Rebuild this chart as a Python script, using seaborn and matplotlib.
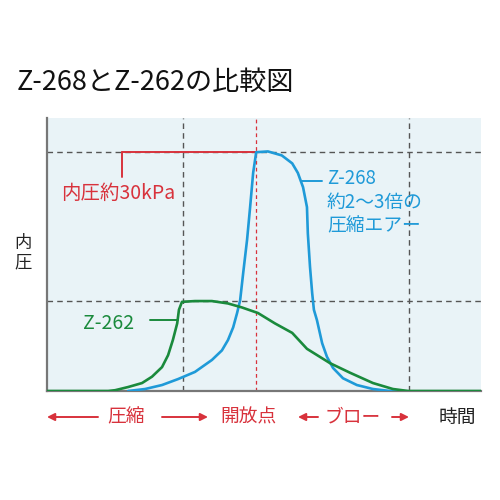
import seaborn as sns
import numpy as np
import pandas as pd
import matplotlib.pyplot as plt
from matplotlib.patches import FancyArrowPatch

# time in arbitrary units (0-100), internal pressure in kPa
t_268 = [18.7, 22.6, 26.5, 30.2, 34.1, 38.0, 40.3, 41.7, 42.9, 43.8, 44.5, 45.2,
         46.1, 46.8, 47.5, 48.2, 50.9, 54.1, 56.5, 57.8, 59.0, 59.9, 60.1, 60.6,
         61.1, 61.5, 62.2, 63.4, 64.5, 65.9, 68.2, 71.4, 75.1, 79.0, 82.0]
p_268 = [0.0, 0.25, 0.75, 1.5, 2.4, 3.9, 5.1, 6.4, 8.0, 9.8, 11.4, 14.8,
         19.0, 23.1, 27.4, 30.0, 30.1, 29.6, 28.6, 27.4, 25.6, 23.1, 19.8, 15.6,
         12.3, 10.2, 8.9, 6.0, 4.3, 2.9, 1.6, 0.75, 0.25, 0.0, 0.0]

t_262 = [0.0, 14.1, 15.7, 18.7, 21.9, 24.2, 26.5, 27.9, 29.0, 30.0, 30.4, 31.1,
         34.1, 38.0, 41.7, 44.9, 48.6, 52.5, 56.5, 59.9, 65.2, 69.8, 75.1, 79.7,
         83.2, 100.0]
p_262 = [0.0, 0.0, 0.1, 0.5, 1.0, 1.8, 3.0, 4.5, 6.4, 8.5, 10.2, 11.2,
         11.3, 11.3, 11.0, 10.5, 9.8, 8.5, 7.3, 5.3, 3.5, 2.3, 1.0, 0.25,
         0.0, 0.0]

phase_lines = [31.3, 83.4]
open_point = 48.2
level_268 = 30.0
level_262 = 11.3

BLUE = '#1f9ad8'
GREEN = '#1a8a3c'
RED = '#d8323c'
GRAY = '#555555'

sns.set_theme(style='white')
plt.rcParams['font.family'] = ['Noto Sans CJK JP', 'DejaVu Sans']

fig = plt.figure(figsize=(5, 5), dpi=100)
ax = fig.add_axes([47 / 500, 109 / 500, 434 / 500, 273 / 500])
ax.set_facecolor('#e9f3f7')

df268 = pd.DataFrame({'t': t_268, 'p': p_268})
df262 = pd.DataFrame({'t': t_262, 'p': p_262})

# guide lines
for x in phase_lines:
    ax.axvline(x, color=GRAY, lw=1, ls=(0, (4, 3)), zorder=1)
ax.axvline(open_point, color=RED, lw=0.9, ls=(0, (3, 2.5)), zorder=1)
for y in [level_268, level_262]:
    ax.axhline(y, color=GRAY, lw=1, ls=(0, (4, 3)), zorder=1)

sns.lineplot(data=df268, x='t', y='p', color=BLUE, lw=1.9, ax=ax, zorder=3)
sns.lineplot(data=df262, x='t', y='p', color=GREEN, lw=1.9, ax=ax, zorder=4)

ax.set_xlim(0, 100)
ax.set_ylim(0, 34.3)
ax.set_xticks([])
ax.set_yticks([])
ax.set_xlabel('')
ax.set_ylabel('')
for s in ['top', 'right']:
    ax.spines[s].set_visible(False)
for s in ['left', 'bottom']:
    ax.spines[s].set_color('#777777')
    ax.spines[s].set_linewidth(1.6)

# 30kPa callout
ax.plot([17.3, open_point], [level_268, level_268], color=RED, lw=1.4, zorder=2)
ax.plot([17.3, 17.3], [level_268, 26.9], color=RED, lw=1.4, zorder=2)
ax.text(3.2, 24.8, '内圧約30kPa', color=RED, fontsize=14, va='center', ha='left')

# Z-268 label
ax.plot([58.8, 63.4], [26.4, 26.4], color=BLUE, lw=1.4, zorder=2)
ax.text(64.5, 23.7, 'Z-268\n約2〜3倍の\n圧縮エアー', color=BLUE, fontsize=13.5,
        va='center', ha='left', linespacing=1.15)

# Z-262 label
ax.plot([23.7, 30.2], [8.9, 8.9], color=GREEN, lw=1.4, zorder=2)
ax.text(8.3, 8.5, 'Z-262', color=GREEN, fontsize=14, va='center', ha='left')

# title and y label
fig.text(17 / 500, 1 - 82 / 500, 'Z-268とZ-262の比較図', fontsize=19.5,
         color='#111111', va='center', ha='left')
fig.text(23 / 500, 1 - 253 / 500, '内\n圧', fontsize=12.5, color='#222222',
         va='center', ha='center', linespacing=1.1)

# bottom phase labels
yb = 1 - 417 / 500
for cx, label, col in [(126.5, '圧縮', RED), (248.5, '開放点', RED),
                       (353, 'ブロー', RED), (457, '時間', '#222222')]:
    fig.text(cx / 500, yb, label, fontsize=13.5, color=col, va='center', ha='center')

arrows = [(98, 47), (162, 208), (318, 298), (392, 409)]
for start, tip in arrows:
    fig.add_artist(FancyArrowPatch(
        (start / 500, yb), (tip / 500, yb), transform=fig.transFigure,
        arrowstyle='-|>', mutation_scale=11, color=RED, lw=1.4,
        shrinkA=0, shrinkB=0))

fig.savefig('out.png', dpi=100)
